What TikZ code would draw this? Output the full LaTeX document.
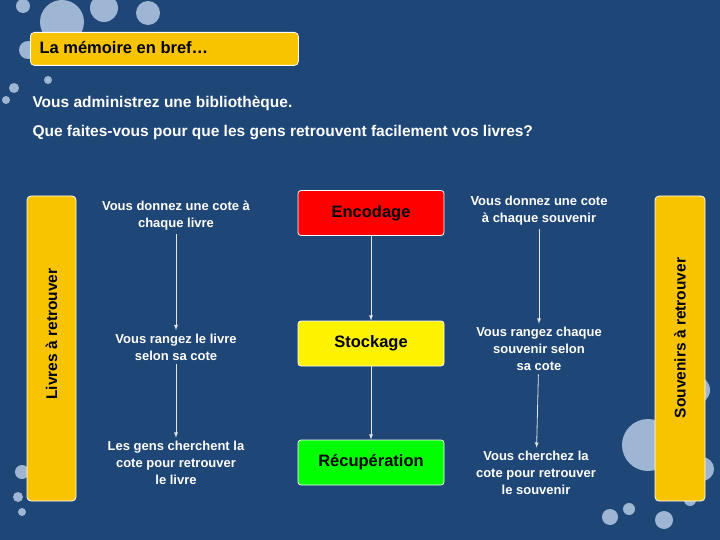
\documentclass[tikz,border=0pt]{standalone}
\usepackage{fontspec}
\setmainfont{Liberation Sans}
\definecolor{bg}{RGB}{30,70,118}
\definecolor{ybx}{RGB}{248,196,0}
\definecolor{bubc}{RGB}{190,210,235}
\begin{document}
\begin{tikzpicture}[x=1pt,y=-1pt,
 ybox/.style={draw=white,line width=0.8pt,rounded corners=4pt,fill=ybx},
 cbox/.style={draw=white,line width=0.8pt,rounded corners=3pt,minimum width=146pt,minimum height=45pt,font=\bfseries\fontsize{16.5}{20}\selectfont},
 lbl/.style={text=white,align=center,font=\bfseries\fontsize{13}{17}\selectfont},
 arr/.style={draw=white!80!gray,line width=0.8pt,-latex},
 bub/.style={fill=bubc,fill opacity=0.8}]
\fill[bg] (0,0) rectangle (720,540);
\useasboundingbox (0,0) rectangle (720,540);
% bubbles
\foreach \x/\y/\r in {62/22/22,104/8/14,148/13/12,23/6/7,28/50/9,14/88/5,48/80/4,6/100/4,132/55/6,
 648/445/26,696/390/14,610/517/8,629/509/6,702/469/12,22/472/7,18/497/5,22/512/4,664/520/9,690/500/6}
 \fill[bub] (\x,\y) circle (\r);
% title
\node[ybox,minimum width=268pt,minimum height=33pt,anchor=north west] (title) at (30,32) {};
\node[anchor=west,font=\bfseries\fontsize{16.5}{20}\selectfont] (tt) at (36,48) {La mémoire en bref…};
\node[anchor=west,text=white,font=\bfseries\fontsize{15.5}{18}\selectfont] (q1) at (29,103) {Vous administrez une bibliothèque.};
\node[anchor=west,text=white,font=\bfseries\fontsize{15.5}{18}\selectfont] (q2) at (29,133) {Que faites-vous pour que les gens retrouvent facilement vos livres?};
% side boxes
\node[ybox,minimum width=49pt,minimum height=305pt] (lb) at (51.5,348.5) {};
\node[rotate=90,font=\bfseries\fontsize{15.5}{20}\selectfont] (lt) at (51.5,334) {Livres à retrouver};
\node[ybox,minimum width=50pt,minimum height=305pt] (rb) at (680,348.5) {};
\node[rotate=90,font=\bfseries\fontsize{15.5}{20}\selectfont] (rt) at (680,338) {Souvenirs à retrouver};
% center
\node[cbox,fill=red] (enc) at (371,213) {Encodage};
\node[cbox,fill=yellow] (sto) at (371,343.5) {Stockage};
\node[cbox,fill=green] (rec) at (371,462.5) {Récupération};
\draw[arr] (enc) -- (sto);
\draw[arr] (sto) -- (rec);
% left
\node[lbl] (l1) at (176,216) {Vous donnez une cote à\\chaque livre};
\node[lbl] (l2) at (176,347) {Vous rangez le livre\\selon sa cote};
\node[lbl] (l3) at (176,463) {Les gens cherchent la\\cote pour retrouver\\le livre};
\draw[arr] (l1) -- (l2);
\draw[arr] (l2) -- (l3);
% right
\node[lbl] (r1) at (539,211) {Vous donnez une cote\\à chaque souvenir};
\node[lbl] (r2) at (539,349) {Vous rangez chaque\\souvenir selon\\sa cote};
\node[lbl] (r3) at (536,473) {Vous cherchez la\\cote pour retrouver\\le souvenir};
\draw[arr] (r1) -- (r2);
\draw[arr] (r2) -- (r3);
\end{tikzpicture}
\end{document}
